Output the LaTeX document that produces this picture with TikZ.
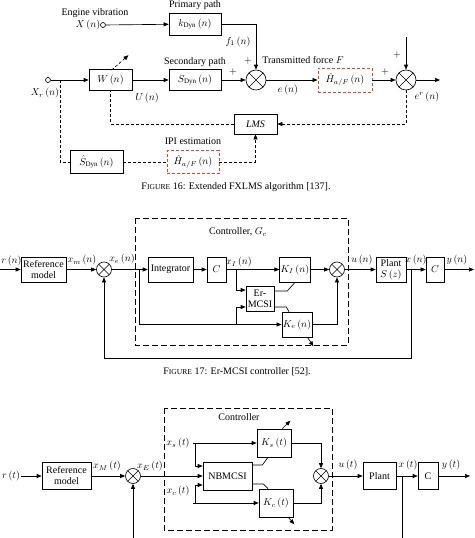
\documentclass[tikz,border=0pt]{standalone}
\usepackage{fontspec}
\setmainfont{Liberation Serif}
\usetikzlibrary{arrows.meta,calc}

% fake small caps for the captions
\newcommand{\figword}{F{\fontsize{7.6}{9}\selectfont IGURE}}

\definecolor{estred}{RGB}{235,60,60}

\tikzset{
    blk/.style={draw, inner sep=1pt, align=center, fill=white},
    redblk/.style={blk, draw=estred, line width=0.85pt, dash pattern=on 3pt off 2pt},
    term/.style={draw, circle, minimum size=5pt, inner sep=0pt},
    sumjn/.style={draw, circle, inner sep=0pt, minimum size=#1,
        path picture={\draw (path picture bounding box.north west) -- (path picture bounding box.south east)
                            (path picture bounding box.south west) -- (path picture bounding box.north east);}},
    sumjn/.default=15pt,
    fbline/.style={dashed, dash pattern=on 3pt off 2pt},
    ctrlbox/.style={line width=0.9pt, dash pattern=on 6pt off 3pt},
    lbl/.style={inner sep=1pt}
}

\begin{document}
\begin{tikzpicture}[x=1pt, y=-1pt, font=\fontsize{10}{11}\selectfont, line width=0.65pt,
    >={Triangle[length=5pt,width=4pt]}]

    \useasboundingbox (0,0) rectangle (474,538);

    % ---------------- Figure 16 ----------------
    \def\rowa{80}

    \node[term] (xin) at (103,25) {};
    \node[lbl] (xinlbl) at (88,25) {$X\,(n)$};
    \node[lbl] (engvib) at (95,13) {Engine vibration};
    \node[blk, minimum width=52pt, minimum height=22pt] (kdyn) at (195,24) {$k_{\mathrm{Dyn}}\,(n)$};
    \node[lbl] (prim) at (195,5) {Primary path};

    \node[term] (xr) at (48,\rowa) {};
    \node[lbl] (xrlbl) at (45,93) {$X_r\,(n)$};
    \node[blk, minimum width=43pt, minimum height=21pt] (w) at (110.5,\rowa) {$W\,(n)$};
    \node[blk, minimum width=52pt, minimum height=21pt] (sdyn) at (195,\rowa) {$S_{\mathrm{Dyn}}\,(n)$};
    \node[lbl] (sec) at (195,62) {Secondary path};
    \node[sumjn=20pt] (sum1) at (256,\rowa) {};
    \node[redblk, minimum width=54pt, minimum height=24pt] (haf) at (345,\rowa) {$\hat{H}_{a/F}\,(n)$};
    \node[sumjn=20pt] (sum2) at (406,\rowa) {};
    \coordinate (ftop) at (406,37);
    \coordinate (eout) at (440,\rowa);
    \coordinate (b0) at (60,\rowa);

    \node[blk, minimum width=43pt, minimum height=20pt] (lms) at (255.5,124) {\itshape LMS};
    \node[blk, minimum width=53pt, minimum height=23pt] (shat) at (96.5,162) {$\hat{S}_{\mathrm{Dyn}}\,(n)$};
    \node[redblk, minimum width=52pt, minimum height=23pt] (hhat) at (193,162) {$\hat{H}_{a/F}\,(n)$};
    \node[lbl] (ipi) at (193,141) {IPI estimation};

    \draw[->] (xin) -- (kdyn);
    \draw[->] (kdyn.east) -| (sum1.north);
    \draw[->] (xr) -- (w);
    \draw[->] (w) -- (sdyn);
    \draw[->] (sdyn) -- (sum1);
    \draw[->] (sum1) -- (haf);
    \draw[->] (haf) -- (sum2);
    \draw[->] (ftop) -- (sum2);
    \draw[->] (sum2) -- (eout);
    \draw[->, fbline] ($(w.north)+(1,1)$) -- ++(17,-15);

    \draw[->, fbline] (sum2.south) |- (lms.east);
    \draw[fbline] (lms.west) -| (w.south);
    \draw[fbline] (b0) |- (shat.west);
    \draw[fbline] (shat) -- (hhat);
    \draw[->, fbline] (hhat.east) -| (lms.south);

    \node[lbl] (f1) at (238,42) {$f_1\,(n)$};
    \node[lbl] (un) at (147,98) {$U\,(n)$};
    \node[lbl] (en) at (288,90) {$e\,(n)$};
    \node[lbl] (ern) at (427,97) {$e^{r}\,(n)$};
    \node[lbl, anchor=west] (tforce) at (261,60) {Transmitted force $F$};
    \node[lbl] (pa) at (233,72) {$+$};
    \node[lbl] (pb) at (248,61) {$+$};
    \node[lbl] (pc) at (385,72) {$+$};
    \node[lbl] (pd) at (397,55) {$+$};

    \node[lbl] (cap16) at (236,187) {\figword\ 16: Extended FXLMS algorithm [137].};

    % ---------------- Figure 17 ----------------
    \def\rowb{269.5}

    \draw[ctrlbox] (135,218) rectangle (348,345);
    \node[lbl] (ctrlb) at (238,232) {Controller, $G_c$};

    \coordinate (rin) at (0,\rowb);
    \node[lbl, anchor=west] (rnlbl) at (0,261) {$r\,(n)$};
    \node[blk, minimum width=45pt, minimum height=25pt] (refm) at (43.5,\rowb) {Reference\\model};
    \node[sumjn] (sum3) at (104,\rowb) {};
    \node[blk, minimum width=45pt, minimum height=25pt] (integ) at (170.5,\rowb) {Integrator};
    \node[blk, minimum width=19pt, minimum height=25pt] (ca) at (216.5,\rowb) {$C$};
    \node[blk, minimum width=30pt, minimum height=25pt] (ki) at (295,\rowb) {$K_I\,(n)$};
    \node[blk, minimum width=28pt, minimum height=25pt] (ermcsi) at (260,298.5) {Er-\\MCSI};
    \node[blk, minimum width=30pt, minimum height=25pt] (ke) at (297,324.5) {$K_e\,(n)$};
    \node[sumjn] (sum4) at (337,\rowb) {};
    \node[blk, minimum width=30pt, minimum height=25pt] (plant1) at (391,\rowb) {Plant\\$S\,(z)$};
    \node[blk, minimum width=18pt, minimum height=25pt] (cb) at (435,\rowb) {$C$};
    \coordinate (yout1) at (474,\rowb);
    \coordinate (b1) at (139,\rowb);
    \coordinate (b2) at (236,\rowb);
    \coordinate (b3) at (236,324.5);
    \coordinate (b4) at (411,\rowb);

    \draw[->] (rin) -- (refm);
    \draw[->] (refm) -- (sum3);
    \draw[->] (sum3) -- (integ);
    \draw[->] (integ) -- (ca);
    \draw[->] (ca) -- (ki);
    \draw[->] (ki) -- (sum4);
    \draw[->] (b1) |- (ke.west);
    \draw[->] (b2) |- ($(ermcsi.west)+(0,-8.5)$);
    \draw[->] (b3) |- ($(ermcsi.west)+(0,8.5)$);
    \draw ($(ermcsi.east)+(0,-7.5)$) -- ++(13,0) -- (ki.south);
    \draw ($(ermcsi.east)+(0,8.5)$) -- ++(12,0) -- ($(ke.north)+(-8,0)$);
    \draw[->] ($(ke.south east)+(-5,0)$) -- ++(6,9);
    \draw[->] (ke.east) -| (sum4.south);
    \draw[->] (sum4) -- (plant1);
    \draw[->] (plant1) -- (cb);
    \draw[->] (cb) -- (yout1);
    \draw[->] (b4) -- ++(0,88.5) -| (sum3.south);

    \node[lbl] (xmn) at (82,260) {$x_m\,(n)$};
    \node[lbl] (xen) at (122,259) {$x_e\,(n)$};
    \node[lbl] (xin2) at (239,262) {$x_I\,(n)$};
    \node[lbl] (unn) at (362,260) {$u\,(n)$};
    \node[lbl] (xn) at (416,260) {$x\,(n)$};
    \node[lbl] (yn) at (457,260) {$y\,(n)$};

    \node[lbl] (cap17) at (237,372) {\figword\ 17: Er-MCSI controller [52].};

    % ---------------- Figure 18 ----------------
    \def\rowc{476}

    \draw[ctrlbox] (164,408) rectangle (332,530);
    \node[lbl] (ctrlc) at (239,417) {Controller};

    \node[lbl] (rt) at (11,\rowc) {$r\,(t)$};
    \node[blk, minimum width=49pt, minimum height=27pt] (refm2) at (66.5,\rowc) {Reference\\model};
    \node[sumjn] (sum5) at (133,\rowc) {};
    \node[blk, minimum width=49pt, minimum height=28pt] (nbm) at (227.5,\rowc) {NBMCSI};
    \node[blk, minimum width=34pt, minimum height=28pt] (ks) at (274,443) {$K_s\,(t)$};
    \node[blk, minimum width=34pt, minimum height=28pt] (kc) at (276,503) {$K_c\,(t)$};
    \node[sumjn] (sum6) at (321,\rowc) {};
    \node[blk, minimum width=33pt, minimum height=27pt] (plant2) at (379.5,\rowc) {Plant};
    \node[blk, minimum width=20pt, minimum height=27pt] (cc) at (428,\rowc) {C};
    \coordinate (yout2) at (470,\rowc);
    \coordinate (xs) at (193,443);
    \coordinate (xsb) at (195,443);
    \coordinate (xc) at (193,503);
    \coordinate (xcb) at (195,503);
    \coordinate (b5) at (402,\rowc);
    \coordinate (fb5) at (133,538);

    \draw[->] (rt) -- (refm2);
    \draw[->] (refm2) -- (sum5);
    \draw[->] (sum5) -- (nbm);
    \draw[->] (xs) -- (ks);
    \draw[->] (xsb) |- ($(nbm.west)+(0,-10)$);
    \draw[->] (xc) -- (kc);
    \draw[->] (xcb) |- ($(nbm.west)+(0,9)$);
    \draw ($(nbm.east)+(0,-11)$) -- ++(10,0) -- ($(ks.south)+(-6,0)$);
    \draw ($(nbm.east)+(0,8)$) -- ++(11,0) -- ($(kc.north)+(-8,0)$);
    \draw[->] ($(ks.north east)+(-9,0)$) -- ++(8,-8);
    \draw[->] ($(kc.south east)+(-5,0)$) -- ++(6,7);
    \draw[->] (ks.east) -| (sum6.north);
    \draw[->] (kc.east) -| (sum6.south);
    \draw[->] (sum6) -- (plant2);
    \draw[->] (plant2) -- (cc);
    \draw[->] (cc) -- (yout2);
    \draw (b5) -- ++(0,62);
    \draw[->] (fb5) -- (sum5.south);

    \node[lbl] (xmt) at (107,466) {$x_M\,(t)$};
    \node[lbl] (xet) at (150,466) {$x_E\,(t)$};
    \node[lbl] (xst) at (178,443) {$x_s\,(t)$};
    \node[lbl] (xct) at (178,491) {$x_c\,(t)$};
    \node[lbl] (ut) at (348,465) {$u\,(t)$};
    \node[lbl] (xt) at (408,465) {$x\,(t)$};
    \node[lbl] (yt) at (451,465) {$y\,(t)$};

\end{tikzpicture}
\end{document}
